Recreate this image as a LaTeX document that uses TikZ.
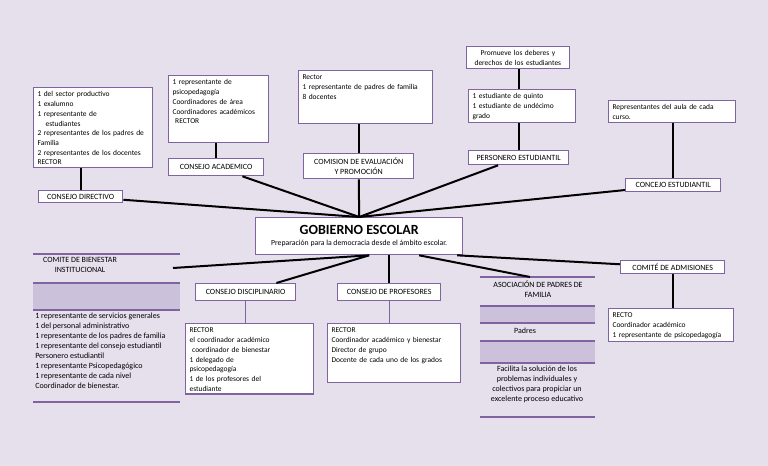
\documentclass[tikz,border=0pt]{standalone}
\usepackage{fontspec}
\setmainfont{Carlito}
\usepackage{xcolor}
\usetikzlibrary{positioning, calc}

\definecolor{fondo}{HTML}{E5E0EC}
\definecolor{borde}{HTML}{8064A2}
\definecolor{banda}{HTML}{CCC1DA}

\begin{document}
\begin{tikzpicture}[
    x=0.75pt, y=-0.75pt,
    caja/.style={draw=borde, fill=white, line width=0.8pt, anchor=north west, align=left, font=\fontsize{5.6}{7.3}\selectfont, inner xsep=3pt, inner ysep=2pt, text height=5pt},
    organo/.style={draw=borde, fill=white, line width=1pt, anchor=north west, align=center, font=\fontsize{6}{7.3}\selectfont, inner sep=1pt},
    texto/.style={font=\fontsize{6}{7.5}\selectfont, inner sep=0pt},
    enlace/.style={line width=1.5pt, black},
    fino/.style={line width=0.8pt, borde},
    raya/.style={line width=1.2pt, borde}
]
\fill[fondo] (0,0) rectangle (768,466);
\useasboundingbox (0,0) rectangle (768,466);

% centro
\node[organo, minimum width=155.25pt, minimum height=27.75pt] (gob) at (255,217)
  {{\fontsize{10.5}{12}\selectfont\bfseries GOBIERNO ESCOLAR}\\[1pt]{\fontsize{5.8}{7}\selectfont Preparación para la democracia desde el ámbito escolar.}};

% organos de arriba
\node[caja, text width=83pt] (dirInfo) at (33,87)
  {1 del sector productivo\\ 1 exalumno\\ 1 representante de\\ \hspace*{6pt}estudiantes\\ 2 representantes de los padres de\\ Familia\\ 2 representantes de los docentes\\ RECTOR};
\node[organo, minimum width=63pt, minimum height=9pt] (dirLabel) at (38,190) {CONSEJO DIRECTIVO};

\node[caja, text width=69pt, text depth=41pt] (acaInfo) at (168,75)
  {1 representante de\\ psicopedagogía\\ Coordinadores de área\\ Coordinadores académicos\\ \hspace*{2pt}RECTOR};
\node[organo, minimum width=71.25pt, minimum height=12.75pt] (acaLabel) at (168,158) {CONSEJO ACADEMICO};

\node[caja, text width=94.5pt, text depth=30.5pt] (comInfo) at (298,70)
  {Rector\\ 1 representante de padres de familia\\ 8 docentes};
\node[organo, minimum width=82.5pt, minimum height=18.75pt] (comLabel) at (303,153) {COMISION DE EVALUACIÓN\\ Y PROMOCIÓN};

\node[caja, text width=71pt, align=center] (perDeb) at (466,46) {Promueve los deberes y\\ derechos de los estudiantes};
\node[caja, text width=74pt] (perInfo) at (468,89) {1 estudiante de quinto\\ 1 estudiante de undécimo\\ grado};
\node[organo, minimum width=75pt, minimum height=10.5pt] (perLabel) at (468,150) {PERSONERO ESTUDIANTIL};

\node[caja, text width=89.25pt] (estInfo) at (608,100) {Representantes del aula de cada\\ curso.};
\node[organo, minimum width=71.25pt, minimum height=9.75pt] (estLabel) at (625,178) {CONCEJO ESTUDIANTIL};

% organos de abajo
\draw[raya] (33,254) -- (180,254);
\node[texto, align=center] (bieTitle) at (80,265) {COMITE DE BIENESTAR\\ INSTITUCIONAL};
\coordinate (bieEnd) at (173,268);
\fill[banda] (33,283) rectangle (180,310);
\draw[fino] (33,283) -- (180,283);
\draw[fino] (33,310) -- (180,310);
\node[texto, anchor=north west, align=left] (bieList) at (35,313)
  {1 representante de servicios generales\\ 1 del personal administrativo\\ 1 representante de los padres de familia\\ 1 representante del consejo estudiantil\\ Personero estudiantil\\ 1 representante Psicopedagógico\\ 1 representante de cada nivel\\ Coordinador de bienestar.};
\draw[raya] (33,402) -- (180,402);

\node[organo, minimum width=75pt, minimum height=12.75pt] (disLabel) at (195,283) {CONSEJO DISCIPLINARIO};
\node[caja, text width=90pt] (disInfo) at (185,323)
  {RECTOR\\ el coordinador académico\\ \hspace*{2pt}coordinador de bienestar\\ 1 delegado de\\ psicopedagogía\\ 1 de los profesores del\\ estudiante};

\node[organo, minimum width=77.25pt, minimum height=12.75pt] (proLabel) at (337,283) {CONSEJO DE PROFESORES};
\node[caja, text width=93.75pt, text depth=35pt] (proInfo) at (327,323)
  {RECTOR\\ Coordinador académico y bienestar\\ Director de grupo\\ Docente de cada uno de los grados};

\draw[raya] (480,277) -- (595,277);
\coordinate (asoEnd) at (530,277);
\node[texto, align=center] (asoTitle) at (538,289) {ASOCIACIÓN DE PADRES DE\\ FAMILIA};
\fill[banda] (480,306) rectangle (595,323);
\draw[fino] (480,306) -- (595,306);
\draw[fino] (480,323) -- (595,323);
\node[texto] (asoPadres) at (525,331) {Padres};
\fill[banda] (480,341) rectangle (595,363);
\draw[fino] (480,341) -- (595,341);
\draw[fino] (480,363) -- (595,363);
\node[texto, align=center] (asoText) at (537,384)
  {Facilita la solución de los\\ problemas individuales y\\ colectivos para propiciar un\\ excelente proceso educativo};
\draw[raya] (480,417) -- (595,417);

\node[organo, minimum width=78pt, minimum height=9.75pt] (admLabel) at (620,260) {COMITÉ DE ADMISIONES};
\node[caja, text width=87.75pt] (admInfo) at (608,308)
  {RECTO\\ Coordinador académico\\ 1 representante de psicopedagogía};

% conectores de arriba
\draw[enlace] (gob.north) -- (dirLabel);
\draw[enlace] (gob.north) -- (acaLabel);
\draw[enlace] (gob.north) -- (comLabel);
\draw[enlace] (gob.north) -- (perLabel);
\draw[enlace] (gob.north) -- (estLabel);
\draw[enlace] (dirLabel.north |- dirInfo.south) -- (dirLabel.north);
\draw[enlace] (acaLabel.north |- acaInfo.south) -- (acaLabel.north);
\draw[enlace] (comLabel.north |- comInfo.south) -- (comLabel.north);
\draw[enlace] (perLabel.north |- perDeb.south) -- (perLabel.north |- perInfo.north);
\draw[enlace] (perLabel.north |- perInfo.south) -- (perLabel.north);
\draw[enlace] (estLabel.north |- estInfo.south) -- (estLabel.north);

% conectores de abajo
\draw[enlace] ($(gob.south)+(10,0)$) -- (bieEnd);
\draw[enlace] ($(gob.south)+(10,0)$) -- (disLabel);
\draw[enlace] (gob.south -| proLabel.north) -- (proLabel);
\draw[enlace] ($(gob.south)+(60,0)$) -- (asoEnd);
\draw[enlace] ($(gob.south)+(98,0)$) -- (admLabel);
\draw[fino] (disLabel.south) -- (disLabel.south |- disInfo.north);
\draw[fino] (proLabel.south) -- (proLabel.south |- proInfo.north);
\draw[enlace] (admLabel.south) -- (admLabel.south |- admInfo.north);
\end{tikzpicture}
\end{document}
